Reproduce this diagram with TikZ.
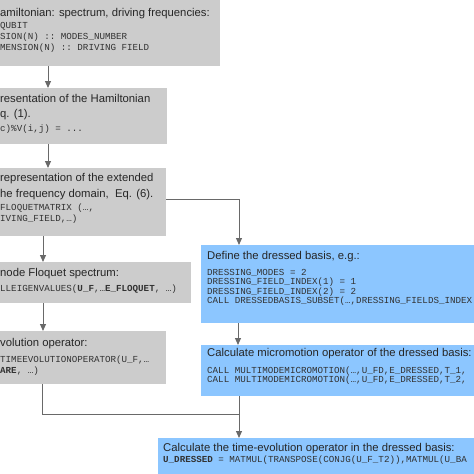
\documentclass[tikz,border=0pt]{standalone}
\usepackage{fontspec}
\setsansfont{Liberation Sans}
\setmonofont{Liberation Mono}
\usetikzlibrary{arrows.meta}
\definecolor{boxgrey}{RGB}{204,204,204}
\definecolor{boxblue}{RGB}{140,198,255}
\definecolor{linegrey}{RGB}{105,105,105}
\definecolor{codegrey}{RGB}{50,50,50}
\tikzset{
  greybox/.style={fill=boxgrey, inner sep=0, anchor=north west},
  bluebox/.style={fill=boxblue, inner sep=0, anchor=north west},
  ttl/.style={anchor=base west, inner sep=0, font=\fontsize{11.3}{13}\selectfont\sffamily, text=black!85},
  cod/.style={anchor=base west, inner sep=0, font=\fontsize{9.2}{10}\selectfont\ttfamily, text=codegrey},
  arr/.style={draw=linegrey, line width=1pt, -{Triangle[width=6pt,length=7pt]}},
  ln/.style={draw=linegrey, line width=1pt}
}
\begin{document}
\begin{tikzpicture}[x=1pt,y=-1pt]
\useasboundingbox (0,0) rectangle (474,474);
\clip (0,0) rectangle (474,474);
\node[greybox, minimum width=230pt, minimum height=71pt] (ham) at (-10,-5) {};
\node[greybox, minimum width=177pt, minimum height=56pt] (mat) at (-10,88) {};
\node[greybox, minimum width=176pt, minimum height=68pt] (ext) at (-10,168) {};
\node[greybox, minimum width=201pt, minimum height=41pt] (spec) at (-10,262) {};
\node[greybox, minimum width=176pt, minimum height=53pt] (evol) at (-10,331) {};
\node[bluebox, minimum width=290pt, minimum height=78pt] (basis) at (201,245) {};
\node[bluebox, minimum width=290pt, minimum height=51pt] (micro) at (201,345) {};
\node[bluebox, minimum width=330pt, minimum height=50pt] (dress) at (158,438) {};
\node[ttl] (ham1) at (0,16) {amiltonian: spectrum, driving frequencies:};
\node[cod] (ham2) at (0,28) {QUBIT};
\node[cod] (ham3) at (0,39) {SION(N) :: MODES\_NUMBER};
\node[cod] (ham4) at (0,50) {MENSION(N) :: DRIVING FIELD};
\node[ttl] (mat1) at (0,102) {resentation of the Hamiltonian};
\node[ttl] (mat2) at (0,117) {q. (1).};
\node[cod] (mat3) at (0,131) {c)\%V(i,j) = ...};
\node[ttl] (ext1) at (0,181) {representation of the extended};
\node[ttl] (ext2) at (0,197) {he frequency domain,\ \ Eq. (6).};
\node[cod] (ext3) at (0,210) {FLOQUETMATRIX (…,};
\node[cod] (ext4) at (0,221) {IVING\_FIELD,…)};
\node[ttl] (spec1) at (0,276) {node Floquet spectrum:};
\node[cod] (spec2) at (0,291) {LLEIGENVALUES(\textbf{U\_F},…\textbf{E\_FLOQUET}, …)};
\node[ttl] (evol1) at (0,346) {volution operator:};
\node[cod] (evol2) at (0,362) {TIMEEVOLUTIONOPERATOR(U\_F,…};
\node[cod] (evol3) at (0,373) {\textbf{ARE}, …)};
\node[ttl] (basis1) at (207,259) {Define the dressed basis, e.g.:};
\node[cod] (basis2) at (207,275) {DRESSING\_MODES = 2};
\node[cod] (basis3) at (207,284.5) {DRESSING\_FIELD\_INDEX(1) = 1};
\node[cod] (basis4) at (207,294) {DRESSING\_FIELD\_INDEX(2) = 2};
\node[cod] (basis5) at (207,303.5) {CALL DRESSEDBASIS\_SUBSET(…,DRESSING\_FIELDS\_INDEX};
\node[ttl] (micro1) at (207,356) {Calculate micromotion operator of the dressed basis:};
\node[cod] (micro2) at (207,373) {CALL MULTIMODEMICROMOTION(…,U\_FD,E\_DRESSED,T\_1,};
\node[cod] (micro3) at (207,382) {CALL MULTIMODEMICROMOTION(…,U\_FD,E\_DRESSED,T\_2,};
\node[ttl] (dress1) at (163,451) {Calculate the time-evolution operator in the dressed basis:};
\node[cod] (dress2) at (163,462) {\textbf{U\_DRESSED} = MATMUL(TRANSPOSE(CONJG(U\_F\_T2)),MATMUL(U\_BA};
\draw[arr] ([xshift=58pt]ham.south west) -- ([xshift=58pt]mat.north west);
\draw[arr] ([xshift=58pt]mat.south west) -- ([xshift=58pt]ext.north west);
\draw[arr] ([xshift=53pt]ext.south west) -- ([xshift=53pt]spec.north west);
\draw[arr] ([xshift=53pt]spec.south west) -- ([xshift=53pt]evol.north west);
\draw[arr] ([yshift=3pt]ext.east) -| ([xshift=38pt]basis.north west);
\draw[arr] ([xshift=37pt]basis.south west) -- ([xshift=37pt]micro.north west);
\coordinate (join) at (239,414);
\draw[ln] ([xshift=52pt]evol.south west) |- (join);
\draw[arr] ([xshift=38pt]micro.south west) -- ([xshift=81pt]dress.north west);
\end{tikzpicture}
\end{document}
